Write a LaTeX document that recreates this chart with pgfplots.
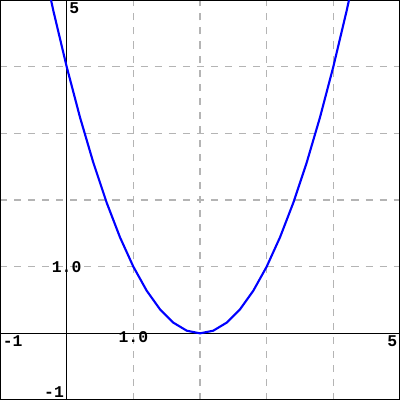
\documentclass[border=0pt]{standalone}
\usepackage{pgfplots}
\pgfplotsset{compat=1.18}
\usepackage{fontspec}
\newfontfamily\labfont{Liberation Mono}
\begin{document}
\begin{tikzpicture}
\begin{axis}[
  width=6cm, height=6cm, scale only axis,
  xmin=-1, xmax=5, ymin=-1, ymax=5,
  xtick={1,2,3,4}, ytick={1,2,3,4},
  xticklabels={}, yticklabels={},
  major tick length=0pt,
  grid=major,
  major grid style={draw={rgb,255:red,180;green,180;blue,180}, dashed, line width=0.45pt},
  extra x ticks={0}, extra y ticks={0},
  extra x tick labels={}, extra y tick labels={},
  extra tick style={grid=major, major grid style={black, solid, line width=0.5pt}},
  axis line style={black, line width=0.6pt},
  clip=true,
]
\addplot[blue, line width=0.9pt] coordinates {
(-0.4,5.76) (-0.2,4.84) (0,4) (0.2,3.24) (0.4,2.56) (0.6,1.96) (0.8,1.44)
(1.0,1) (1.2,0.64) (1.4,0.36) (1.6,0.16) (1.8,0.04) (2,0) (2.2,0.04)
(2.4,0.16) (2.6,0.36) (2.8,0.64) (3,1) (3.2,1.44) (3.4,1.96) (3.6,2.56)
(3.8,3.24) (4,4) (4.2,4.84) (4.4,5.76)};
\begin{scope}[every node/.style={font=\labfont\bfseries\fontsize{7}{8}\selectfont, inner sep=1pt}]
\node[anchor=north west] at (axis cs:-1,0) {-1};
\node[anchor=north east] at (axis cs:5,0) {5};
\node[anchor=north, yshift=2pt] at (axis cs:1,0) {1.0};
\node[anchor=north west] at (axis cs:0,5) {5};
\node[anchor=south east] at (axis cs:0,-1) {-1};
\node[anchor=center] at (axis cs:0,1) {1.0};
\end{scope}
\end{axis}
\pgfresetboundingbox
\path (current axis.south west) rectangle (current axis.north east);
\end{tikzpicture}
\end{document}
